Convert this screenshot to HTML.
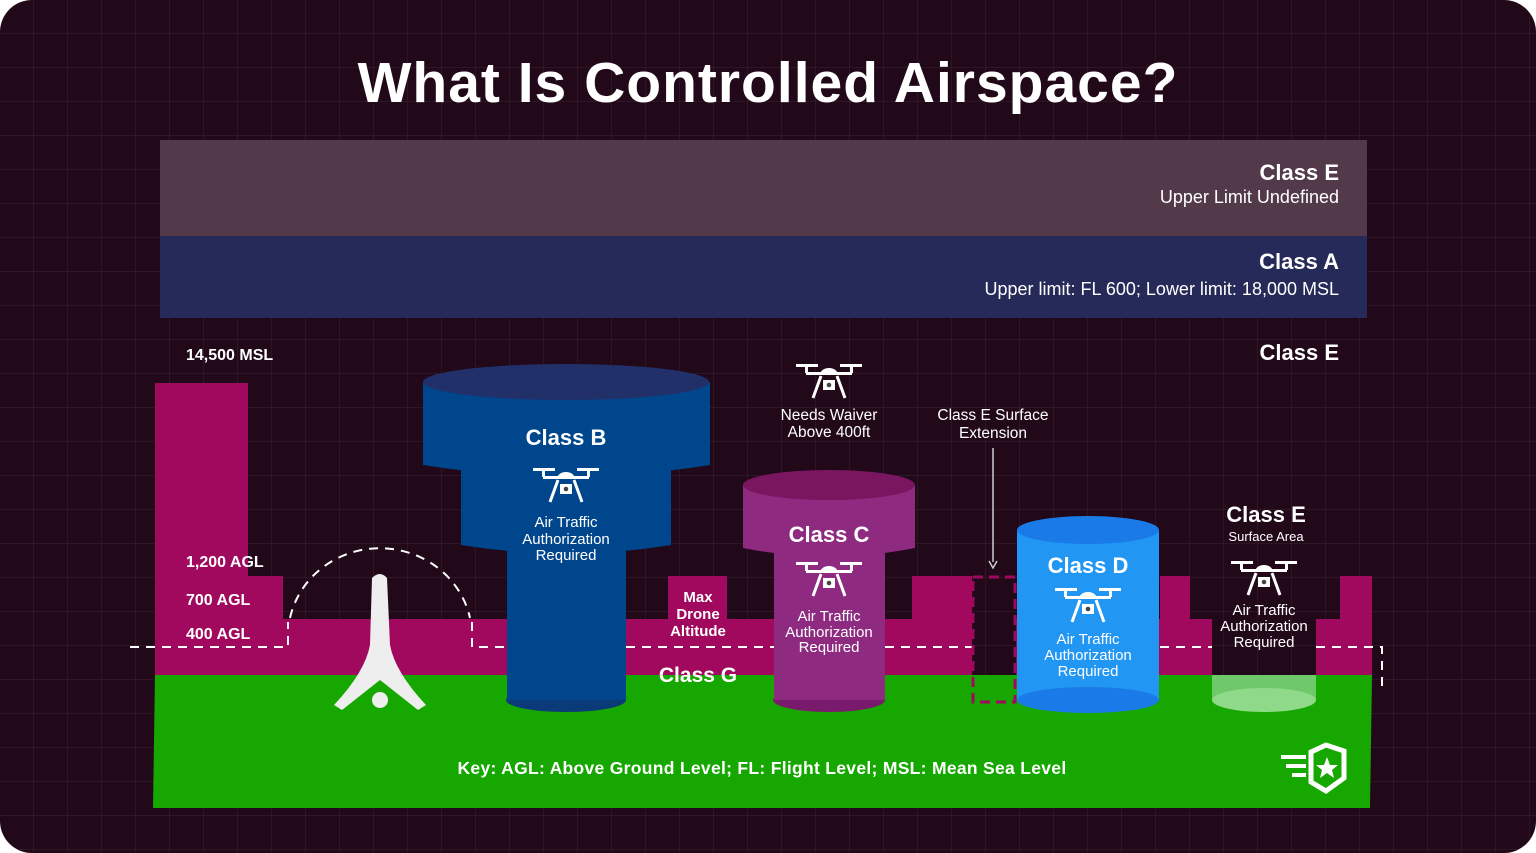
<!DOCTYPE html>
<html><head><meta charset="utf-8"><style>
html,body{margin:0;padding:0;background:#fff;}
svg{display:block;}
text{font-family:"Liberation Sans",sans-serif;fill:#fff;}
</style></head><body>
<svg width="1536" height="853" viewBox="0 0 1536 853" xmlns="http://www.w3.org/2000/svg">
<defs>
<pattern id="g" width="34" height="34" patternUnits="userSpaceOnUse" x="0" y="0">
<path d="M34 0V34M0 34H34" stroke="#3a2233" stroke-width="1" fill="none"/>
</pattern>
<g id="dr">
<rect x="-33" y="-16" width="22" height="3" fill="#fff"/>
<rect x="11" y="-16" width="22" height="3" fill="#fff"/>
<rect x="-24" y="-15" width="3" height="8" fill="#fff"/>
<rect x="21" y="-15" width="3" height="8" fill="#fff"/>
<path d="M-23 -8 L23 -8 L23 -5 L-23 -5Z" fill="#fff"/>
<path d="M-9 -5 A9 7 0 0 1 9 -5Z" fill="#fff"/>
<path d="M-8 -4 L-16 18 M8 -4 L16 18" stroke="#fff" stroke-width="3"/>
<rect x="-6" y="0" width="12" height="10" fill="#fff"/>
<circle cx="0" cy="5" r="2.3" fill="#444"/>
</g>
</defs>
<rect width="1536" height="853" rx="32" fill="#210919"/>
<rect width="1536" height="853" rx="32" fill="url(#g)"/>
<text x="768" y="102" font-size="57" font-weight="bold" text-anchor="middle" letter-spacing="1">What Is Controlled Airspace?</text>
<rect x="160" y="140" width="1207" height="96" fill="#523a4b"/>
<rect x="160" y="236" width="1207" height="82" fill="#262a58"/>
<text x="1339" y="180" font-size="22" font-weight="bold" text-anchor="end">Class E</text>
<text x="1339" y="203" font-size="18" text-anchor="end">Upper Limit Undefined</text>
<text x="1339" y="269" font-size="22" font-weight="bold" text-anchor="end">Class A</text>
<text x="1339" y="295" font-size="18" text-anchor="end">Upper limit: FL 600; Lower limit: 18,000 MSL</text>
<text x="1339" y="360" font-size="22" font-weight="bold" text-anchor="end">Class E</text>
<text x="186" y="360" font-size="16" font-weight="bold">14,500 MSL</text>
<path fill="#a0095e" d="M155 383H248V576H283V619H668V576H727V619H912V576H972V675H155Z"/>
<path fill="#a0095e" d="M1016 619H1160V576H1190V619H1212V675H1016Z"/>
<rect x="1316" y="619" width="56" height="56" fill="#a0095e"/>
<rect x="1340" y="576" width="32" height="99" fill="#a0095e"/>
<path fill="#16a800" d="M155 675H1372L1370 808H153Z"/>
<g stroke="#fff" stroke-width="2" stroke-dasharray="9 7" fill="none">
<path d="M130 647H288V622"/>
<path d="M290 618 A92 88 0 0 1 470 618"/>
<path d="M472 622V647H510"/>
<path d="M626 647H774"/>
<path d="M885 647H972"/>
<path d="M1160 647H1212"/>
<path d="M1316 647H1382V686"/>
</g>
<rect x="973" y="577" width="42" height="125" fill="none" stroke="#a0095e" stroke-width="3" stroke-dasharray="10 6"/>
<path d="M993 448V562" stroke="#ccc" stroke-width="1.5"/>
<path d="M989 561L993 568L997 561" stroke="#ccc" stroke-width="1.5" fill="none"/>
<path fill="#eee" d="M372 578Q380 570 387 578L390 645Q395 672 426 705L418 710L380 680L342 710L334 705Q365 672 370 645Z"/>
<circle cx="380" cy="700" r="8" fill="#eee"/>
<ellipse cx="566" cy="700" rx="60" ry="12" fill="#0a3a78"/>
<rect x="507" y="540" width="119" height="160" fill="#00468c"/>
<path fill="#00468c" d="M461 470H671V545Q566 562 461 545Z"/>
<path fill="#00468c" d="M423 382H710V465Q566 488 423 465Z"/>
<ellipse cx="566" cy="382" rx="143" ry="18" fill="#22306a"/>
<text x="566" y="445" font-size="22" font-weight="bold" text-anchor="middle">Class B</text>
<use href="#dr" x="566" y="484"/>
<text x="566" y="527" font-size="15" text-anchor="middle">Air Traffic</text>
<text x="566" y="544" font-size="15" text-anchor="middle">Authorization</text>
<text x="566" y="560" font-size="15" text-anchor="middle">Required</text>
<ellipse cx="829" cy="700" rx="56" ry="12" fill="#7a1a6c"/>
<rect x="774" y="545" width="111" height="155" fill="#8e2a80"/>
<path fill="#8e2a80" d="M743 485H915V548Q829 565 743 548Z"/>
<ellipse cx="829" cy="485" rx="86" ry="15" fill="#7a1560"/>
<text x="829" y="542" font-size="22" font-weight="bold" text-anchor="middle">Class C</text>
<use href="#dr" x="829" y="578"/>
<text x="829" y="621" font-size="15" text-anchor="middle">Air Traffic</text>
<text x="829" y="637" font-size="15" text-anchor="middle">Authorization</text>
<text x="829" y="652" font-size="15" text-anchor="middle">Required</text>
<rect x="1017" y="530" width="142" height="170" fill="#2196f3"/>
<ellipse cx="1088" cy="700" rx="71" ry="13" fill="#1a7be8"/>
<ellipse cx="1088" cy="530" rx="71" ry="14" fill="#1a7be8"/>
<text x="1088" y="573" font-size="22" font-weight="bold" text-anchor="middle">Class D</text>
<use href="#dr" x="1088" y="604"/>
<text x="1088" y="644" font-size="15" text-anchor="middle" fill="#e0eefc">Air Traffic</text>
<text x="1088" y="660" font-size="15" text-anchor="middle" fill="#e0eefc">Authorization</text>
<text x="1088" y="676" font-size="15" text-anchor="middle" fill="#e0eefc">Required</text>
<rect x="1212" y="675" width="104" height="25" fill="#6fc86a"/>
<ellipse cx="1264" cy="700" rx="52" ry="12" fill="#8fd98a"/>
<text x="1266" y="522" font-size="22" font-weight="bold" text-anchor="middle">Class E</text>
<text x="1266" y="541" font-size="13" text-anchor="middle">Surface Area</text>
<use href="#dr" x="1264" y="577"/>
<text x="1264" y="615" font-size="15" text-anchor="middle">Air Traffic</text>
<text x="1264" y="631" font-size="15" text-anchor="middle">Authorization</text>
<text x="1264" y="647" font-size="15" text-anchor="middle">Required</text>
<use href="#dr" x="829" y="380"/>
<text x="829" y="420" font-size="15.5" text-anchor="middle">Needs Waiver</text>
<text x="829" y="437" font-size="15.5" text-anchor="middle">Above 400ft</text>
<text x="993" y="420" font-size="15.5" text-anchor="middle">Class E Surface</text>
<text x="993" y="438" font-size="15.5" text-anchor="middle">Extension</text>
<text x="186" y="567" font-size="16" font-weight="bold">1,200 AGL</text>
<text x="186" y="605" font-size="16" font-weight="bold">700 AGL</text>
<text x="186" y="639" font-size="16" font-weight="bold">400 AGL</text>
<text x="698" y="602" font-size="15" font-weight="bold" text-anchor="middle">Max</text>
<text x="698" y="619" font-size="15" font-weight="bold" text-anchor="middle">Drone</text>
<text x="698" y="636" font-size="15" font-weight="bold" text-anchor="middle">Altitude</text>
<text x="698" y="682" font-size="21" font-weight="bold" text-anchor="middle">Class G</text>
<text x="762" y="774" font-size="17.5" font-weight="bold" text-anchor="middle" letter-spacing="0.3">Key: AGL: Above Ground Level; FL: Flight Level; MSL: Mean Sea Level</text>
<g fill="none" stroke="#fff" stroke-width="5">
<path d="M1311 752L1326 745L1344 751V778L1326 791L1311 782Z"/>
</g>
<path d="M1281 757H1306M1286 766H1306M1292 775H1306" stroke="#fff" stroke-width="4"/>
<path fill="#fff" d="M1327 757L1330 765L1338 765L1332 770L1334 778L1327 773L1320 778L1322 770L1316 765L1324 765Z"/>
</svg>
</body></html>
